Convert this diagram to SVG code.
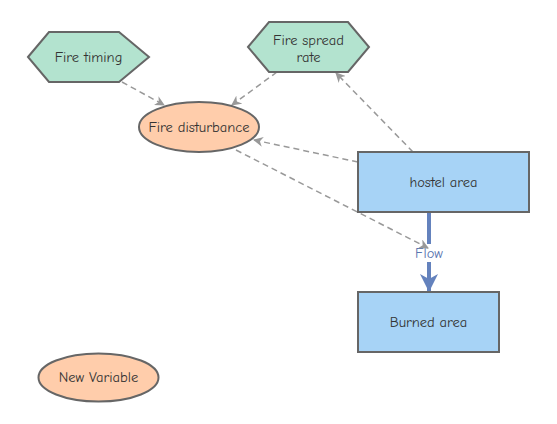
<svg xmlns="http://www.w3.org/2000/svg" width="557" height="424" viewBox="0 0 557 424">
<style>
.hex{fill:#b3e3cf;stroke:#666;stroke-width:2}
.ell{fill:#ffcdab;stroke:#666;stroke-width:2}
.box{fill:#a7d3f6;stroke:#666;stroke-width:2}
.t{font-family:"Comic Neue","Comic Sans MS","Liberation Sans",sans-serif;font-size:14.5px;fill:#333;text-anchor:middle;dominant-baseline:central}
.dash{fill:none;stroke:#999;stroke-width:1.5;stroke-dasharray:6 4}
.flow{fill:none;stroke:#6482bd;stroke-width:4}
</style>
<defs>
<marker id="ah" viewBox="0 0 10 10" refX="9" refY="5" markerWidth="10" markerHeight="10" markerUnits="userSpaceOnUse" orient="auto">
<path d="M0,0 L10,5 L0,10 L3,5 z" fill="#999"/>
</marker>
<marker id="fh" viewBox="0 0 18 18" refX="17" refY="9" markerWidth="18" markerHeight="18" markerUnits="userSpaceOnUse" orient="auto">
<path d="M0,0 L18,9 L0,18 L5,9 z" fill="#6482bd"/>
</marker>
</defs>
<rect width="557" height="424" fill="#fff"/>
<g id="connectors">
<path class="flow" d="M429,213 L429,291" marker-end="url(#fh)"/>
<rect x="412" y="244" width="34" height="18" fill="#fff"/>
<text class="t" x="429" y="253" style="fill:#5a75b0">Flow</text>
<path class="dash" d="M122,82 L164,105" marker-end="url(#ah)"/>
<path class="dash" d="M277,72 L232,105" marker-end="url(#ah)"/>
<path class="dash" d="M413,152 L336,73" marker-end="url(#ah)"/>
<path class="dash" d="M358,162 L254,140" marker-end="url(#ah)"/>
<path class="dash" d="M236,150 L428,248" marker-end="url(#ah)"/>
</g>
<g id="fire-timing">
<polygon class="hex" points="28,57 49,32 119,32 149,57 119,82 49,82"/>
<text class="t" x="88.5" y="57">Fire timing</text>
</g>
<g id="fire-spread-rate">
<polygon class="hex" points="248,47 269,22 348,22 369,47 348,72 269,72"/>
<text class="t" x="308.5" y="40">Fire spread</text>
<text class="t" x="308.5" y="57">rate</text>
</g>
<g id="fire-disturbance">
<ellipse class="ell" cx="199" cy="127" rx="60" ry="25"/>
<text class="t" x="199" y="127">Fire disturbance</text>
</g>
<g id="hostel-area">
<rect class="box" x="358" y="152" width="171" height="60"/>
<text class="t" x="443.5" y="182">hostel area</text>
</g>
<g id="burned-area">
<rect class="box" x="358" y="292" width="141" height="60"/>
<text class="t" x="428.5" y="322">Burned area</text>
</g>
<g id="new-variable">
<ellipse class="ell" cx="98.5" cy="377.5" rx="60" ry="24"/>
<text class="t" x="98.5" y="377.5">New Variable</text>
</g>
</svg>
